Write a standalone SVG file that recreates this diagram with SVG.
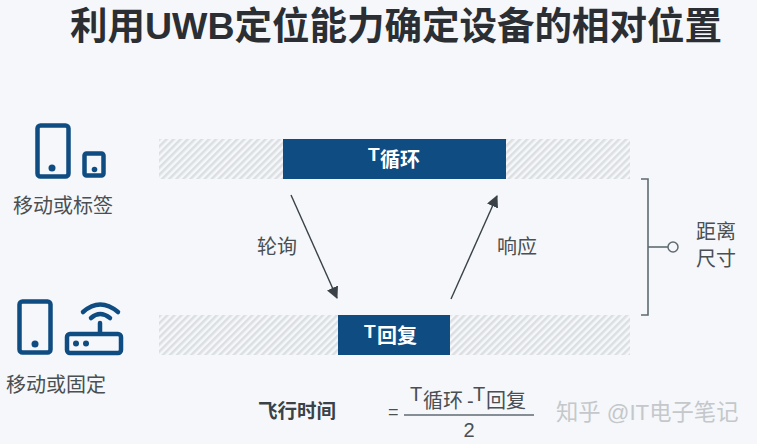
<svg xmlns="http://www.w3.org/2000/svg" width="757" height="444" viewBox="0 0 757 444">
<style>
.cn{font-family:"Liberation Sans","Noto Sans CJK SC",sans-serif;fill:#4a4f52;font-size:20px}
.w{font-family:"Liberation Sans","Noto Sans CJK SC",sans-serif;fill:#fff;font-weight:bold}
.ic{fill:none;stroke:#0f4c81;stroke-width:4.5;stroke-linejoin:round;stroke-linecap:round}
.dot{fill:#0f4c81}
.ln{fill:none;stroke:#5f6b73;stroke-width:1.6}
.ar{fill:none;stroke:#3a4248;stroke-width:1.4}
.f{font-family:"Liberation Sans","Noto Sans CJK SC",sans-serif;fill:#4a4f52}
</style>
<defs>
<pattern id="h" width="5" height="5" patternUnits="userSpaceOnUse" patternTransform="rotate(45)">
<rect width="5" height="5" fill="#f5f7fa"/><rect width="2.500" height="5" fill="#dcdfe1"/>
</pattern>
<marker id="a" markerWidth="14" markerHeight="14" refX="11" refY="6" orient="auto" markerUnits="userSpaceOnUse"><path d="M0 0L12 6L0 12z" fill="#3a4248"/></marker>
</defs>
<rect width="757" height="444" fill="#f5f7fa"/>
<text x="396" y="39" text-anchor="middle" font-family="'Liberation Sans','Noto Sans CJK SC',sans-serif" font-weight="bold" font-size="37.500" fill="#2b2f33">利用UWB定位能力确定设备的相对位置</text>
<g id="top-bar"><rect x="159" y="139" width="471" height="40" fill="url(#h)"/><rect x="283" y="139" width="223" height="40" fill="#0f4c81"/>
<text x="368" y="161" class="w" font-size="19">T</text><text x="380" y="167" class="w" font-size="20">循环</text></g>
<g id="bottom-bar"><rect x="159" y="315" width="471" height="40" fill="url(#h)"/><rect x="338" y="315" width="112" height="40" fill="#0f4c81"/>
<text x="364" y="338" class="w" font-size="19">T</text><text x="377" y="343" class="w" font-size="20">回复</text></g>
<g id="tag-device"><rect x="37.500" y="125.500" width="31" height="51" rx="3" class="ic"/><circle cx="52" cy="168" r="3.500" class="dot"/><rect x="84.500" y="153.500" width="19" height="22" rx="2" class="ic"/><circle cx="94.500" cy="169.500" r="2.800" class="dot"/>
<text x="63" y="213" text-anchor="middle" class="cn">移动或标签</text></g>
<g id="fixed-device"><rect x="19.500" y="301.500" width="31" height="51" rx="3" class="ic"/><circle cx="35" cy="344" r="3.500" class="dot"/><rect x="67" y="334" width="54" height="19" rx="3" class="ic"/><circle cx="76" cy="343.500" r="3" class="dot"/><circle cx="86" cy="343.500" r="3" class="dot"/><path d="M100 333V323" class="ic"/><path d="M83 312Q100 297 118 312" class="ic"/><path d="M91 318Q100 310 110 318" class="ic"/>
<text x="56" y="392" text-anchor="middle" class="cn">移动或固定</text></g>
<g id="connectors"><path d="M291 195L337 298" class="ar" marker-end="url(#a)"/><path d="M451 299L497 196" class="ar" marker-end="url(#a)"/><path d="M641 179H648V315H641" class="ln"/><path d="M648 247H668" class="ln"/><circle cx="673" cy="247" r="5" fill="#f5f7fa" stroke="#5f6b73" stroke-width="1.500"/></g>
<g id="labels"><text x="277" y="254" text-anchor="middle" class="cn">轮询</text><text x="517" y="254" text-anchor="middle" class="cn">响应</text><text x="696" y="239" class="cn">距离</text><text x="696" y="266" class="cn">尺寸</text></g>
<g id="formula"><text x="297" y="418" text-anchor="middle" font-family="'Liberation Sans','Noto Sans CJK SC',sans-serif" font-weight="bold" font-size="19.500" fill="#3a4248">飞行时间</text>
<text x="388" y="418" class="f" font-size="18">=</text>
<text x="410" y="401" class="f" font-size="20">T</text><text x="423" y="408" class="f" font-size="20">循环</text><text x="467" y="408" class="f" font-size="20">-</text><text x="473" y="401" class="f" font-size="20">T</text><text x="486" y="408" class="f" font-size="20">回复</text>
<path d="M404 415H534" class="ln"/><text x="469" y="437" text-anchor="middle" class="f" font-size="20">2</text></g>
<text id="watermark" x="556" y="420" font-family="'Liberation Sans','Noto Sans CJK SC',sans-serif" font-size="22.300" fill="#c4c8cb">知乎 @IT电子笔记</text>
</svg>
